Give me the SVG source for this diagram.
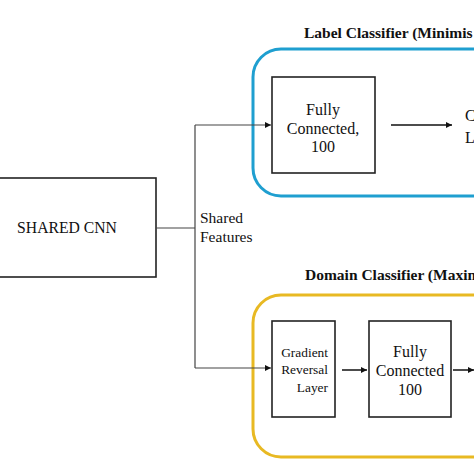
<svg xmlns="http://www.w3.org/2000/svg" width="474" height="474" viewBox="0 0 474 474">
<style>
text{font-family:"Liberation Serif","Times New Roman",serif;fill:#111}
.box{fill:#fff;stroke:#222;stroke-width:1.6}
.title{font-weight:bold;font-size:15.5px}
.t{font-size:16px;text-anchor:middle}
.c{fill:none;stroke:#444;stroke-width:1.2}
.a{fill:none;stroke:#111;stroke-width:1.5}
</style>
<defs>
<marker id="ah" markerWidth="8" markerHeight="8" refX="6" refY="3" orient="auto" markerUnits="userSpaceOnUse"><path d="M0,0 L6,3 L0,6 Z" fill="#111"/></marker>
</defs>
<rect width="474" height="474" fill="#fff"/>
<g id="label-classifier">
<rect x="253" y="49" width="260" height="147" rx="28" fill="none" stroke="#1f9fd0" stroke-width="3"/>
<text class="title" x="304" y="38">Label Classifier (Minimis</text>
</g>
<g id="domain-classifier">
<rect x="253" y="295" width="260" height="162" rx="28" fill="none" stroke="#e8b923" stroke-width="3"/>
<text class="title" x="305" y="280">Domain Classifier (Maxim</text>
</g>
<g id="shared-cnn">
<rect class="box" x="-5" y="178" width="161" height="99"/>
<text style="font-size:15.7px;text-anchor:middle" x="67" y="233">SHARED CNN</text>
</g>
<g id="fc1">
<rect class="box" x="272" y="77" width="103" height="96"/>
<text class="t" x="323" y="115">Fully</text>
<text class="t" x="323" y="133.5">Connected,</text>
<text class="t" x="323" y="152">100</text>
</g>
<g id="output">
<text style="font-size:16px" x="465" y="121">C</text>
<text style="font-size:16px" x="465" y="143">L</text>
</g>
<g id="grl">
<rect class="box" x="272" y="321" width="63" height="96"/>
<text style="font-size:13.4px;text-anchor:end" x="328" y="357">Gradient</text>
<text style="font-size:13.4px;text-anchor:end" x="328" y="374">Reversal</text>
<text style="font-size:13.4px;text-anchor:end" x="328" y="391.5">Layer</text>
</g>
<g id="fc2">
<rect class="box" x="369" y="321" width="82" height="96"/>
<text class="t" x="410" y="357">Fully</text>
<text class="t" x="410" y="376">Connected</text>
<text class="t" x="410" y="395">100</text>
</g>
<g id="shared-features-label">
<text style="font-size:15.5px" x="200" y="223">Shared</text>
<text style="font-size:15.5px" x="200" y="242">Features</text>
</g>
<g id="connectors">
<path class="c" d="M156,228 H195"/>
<path class="c" d="M195,125 V368"/>
<path class="c" d="M195,125 H271" marker-end="url(#ah)"/>
<path class="c" d="M195,368 H271" marker-end="url(#ah)"/>
<path class="a" d="M391,125 H452" marker-end="url(#ah)"/>
<path class="a" d="M342,370 H367" marker-end="url(#ah)"/>
<path class="a" d="M453,370 H474" marker-end="url(#ah)"/>
</g>
</svg>
